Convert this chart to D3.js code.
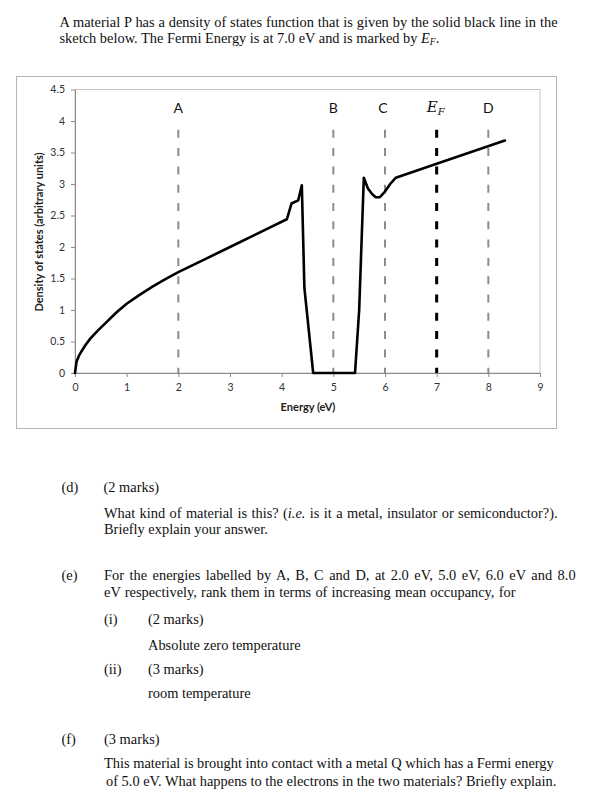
<!DOCTYPE html>
<html>
<head>
<meta charset="utf-8">
<script src="https://cdn.jsdelivr.net/npm/d3@7"></script>
<style>
  html, body { margin: 0; padding: 0; background: #fff; }
  svg { display: block; }
  .serif { font-family: "Liberation Serif", "Times New Roman", serif; font-size: 14.4px; fill: #111; }
  .chartfont { font-family: Lato, "Open Sans", sans-serif; }
</style>
</head>
<body>
<svg id="page" width="595" height="812"></svg>
<script>
// ---- data ----
const energy = [0, 0.03, 0.08, 0.13, 0.2, 0.3, 0.45, 0.6, 0.8, 1.0, 1.25, 1.5, 1.75, 2.0, 2.5, 3.0, 3.5, 4.05, 4.1, 4.19, 4.32, 4.39, 4.44, 4.61, 5.42, 5.5, 5.59, 5.67, 5.75, 5.82, 5.9, 6.0, 6.1, 6.21, 7.0, 8.32];
const dos    = [0, 0.18, 0.28, 0.35, 0.44, 0.55, 0.68, 0.8, 0.96, 1.1, 1.24, 1.37, 1.49, 1.6, 1.8, 2.0, 2.2, 2.42, 2.44, 2.69, 2.74, 2.98, 1.35, 0, 0, 1.0, 3.1, 2.93, 2.84, 2.79, 2.79, 2.88, 3.0, 3.1, 3.32, 3.69];
const markerLabels   = ["A", "B", "C", "EF", "D"];
const markerEnergies = [2.0, 5.0, 6.0, 7.0, 8.0];
const markerTop = 3.86;
const xTicks = [0, 1, 2, 3, 4, 5, 6, 7, 8, 9];
const yTicks = [0, 0.5, 1, 1.5, 2, 2.5, 3, 3.5, 4, 4.5];
const xTitle = "Energy (eV)";
const yTitle = "Density of states (arbitrary units)";

const svg = d3.select("#page");
svg.append("rect").attr("width", 595).attr("height", 812).attr("fill", "#fff");

// ---- header text ----
const head1 = svg.append("text").attr("class", "serif").attr("x", 59.5).attr("y", 26.5).attr("word-spacing", 0.3);
head1.text("A material P has a density of states function that is given by the solid black line in the");
const head2 = svg.append("text").attr("class", "serif").attr("x", 59.5).attr("y", 43.3);
head2.append("tspan").text("sketch below. The Fermi Energy is at 7.0 eV and is marked by ");
head2.append("tspan").attr("font-style", "italic").text("E");
head2.append("tspan").attr("font-style", "italic").attr("font-size", "9.5px").attr("dy", 2).text("F");
head2.append("tspan").attr("dy", -2).text(".");

// ---- chart frame ----
svg.append("rect").attr("x", 16.5).attr("y", 76.5).attr("width", 540).attr("height", 352)
  .attr("fill", "none").attr("stroke", "#b5b5b5").attr("stroke-width", 1);

const x = d3.scaleLinear().domain([0, 9]).range([75, 540]);
const y = d3.scaleLinear().domain([0, 4.5]).range([373, 89.5]);

// plot area border
svg.append("rect").attr("x", x(0)).attr("y", y(4.5)).attr("width", x(9) - x(0)).attr("height", y(0) - y(4.5))
  .attr("fill", "none").attr("stroke", "#c4c4c4").attr("stroke-width", 1);

// axes
const xAxis = svg.append("g").attr("transform", `translate(0,${y(0)})`)
  .call(d3.axisBottom(x).tickValues(xTicks).tickFormat(d3.format("d")).tickSizeInner(4).tickSizeOuter(0).tickPadding(7));
const yAxis = svg.append("g").attr("transform", `translate(${x(0)},0)`)
  .call(d3.axisLeft(y).tickValues(yTicks).tickFormat(d => String(d)).tickSizeInner(4).tickSizeOuter(0).tickPadding(6));
[xAxis, yAxis].forEach(g => {
  g.select(".domain").attr("stroke", "#8a8a8a").attr("stroke-width", 1);
  g.selectAll(".tick line").attr("stroke", "#8a8a8a");
  g.selectAll(".tick text").attr("class", "chartfont").attr("font-size", "10.5px").attr("fill", "#333");
});

svg.append("text").attr("class", "chartfont").attr("x", 308).attr("y", 411)
  .attr("text-anchor", "middle").attr("font-size", "11px").attr("font-weight", "bold").attr("fill", "#222")
  .text(xTitle);
svg.append("text").attr("class", "chartfont")
  .attr("transform", "translate(43,232) rotate(-90)")
  .attr("text-anchor", "middle").attr("font-size", "11px").attr("font-weight", "bold").attr("fill", "#222")
  .text(yTitle);

// ---- marker dashed lines ----
const markers = markerLabels.map((l, i) => ({ label: l, e: markerEnergies[i] }));
svg.append("g").selectAll("line").data(markers).join("line")
  .attr("x1", d => x(d.e)).attr("x2", d => x(d.e))
  .attr("y1", y(markerTop)).attr("y2", y(0))
  .attr("stroke", d => d.label === "EF" ? "#000" : "#8c8c8c")
  .attr("stroke-width", d => d.label === "EF" ? 3 : 2)
  .attr("stroke-dasharray", "8,10.3");

// marker labels
markers.forEach(d => {
  if (d.label === "EF") {
    const t = svg.append("text").attr("x", x(d.e) - 1).attr("y", 111.5).attr("text-anchor", "middle")
      .attr("font-family", "'DejaVu Serif', 'Liberation Serif', serif").attr("font-style", "italic")
      .attr("font-size", "15px").attr("fill", "#111");
    t.append("tspan").text("E");
    t.append("tspan").attr("font-size", "10px").attr("dy", 3).text("F");
  } else {
    svg.append("text").attr("class", "chartfont").attr("x", x(d.e) - (d.label === "C" ? 2 : 0)).attr("y", 113)
      .attr("text-anchor", "middle").attr("font-size", "14px").attr("fill", "#111").text(d.label);
  }
});

// ---- curve ----
const pts = energy.map((e, i) => [e, dos[i]]);
svg.append("path").datum(pts)
  .attr("d", d3.line().x(d => x(d[0])).y(d => y(d[1])))
  .attr("fill", "none").attr("stroke", "#000").attr("stroke-width", 2.6)
  .attr("stroke-linejoin", "round").attr("stroke-linecap", "round");

// ---- question text ----
function line(xp, yp, parts, ws) {
  const t = svg.append("text").attr("class", "serif").attr("x", xp).attr("y", yp);
  if (ws) t.attr("word-spacing", ws);
  parts.forEach(p => {
    if (typeof p === "string") t.append("tspan").text(p);
    else t.append("tspan").attr("font-style", "italic").text(p.i);
  });
  return t;
}
line(61.5, 492, ["(d)"]);
line(103.5, 492, ["(2 marks)"]);
line(104, 518, ["What kind of material is this? (", {i: "i.e."}, " is it a metal, insulator or semiconductor?)."], 0.8);
line(104, 534, ["Briefly explain your answer."]);
line(61.5, 580, ["(e)"]);
line(104, 580, ["For the energies labelled by A, B, C and D, at 2.0 eV, 5.0 eV, 6.0 eV and 8.0"], 1.9);
line(104, 597, ["eV respectively, rank them in terms of increasing mean occupancy, for"], 0.6);
line(104, 623.5, ["(i)"]);
line(148, 623.5, ["(2 marks)"]);
line(148, 649.5, ["Absolute zero temperature"]);
line(104, 673.5, ["(ii)"]);
line(148, 673.5, ["(3 marks)"]);
line(148, 698, ["room temperature"]);
line(61.5, 744, ["(f)"]);
line(104, 744, ["(3 marks)"]);
line(104, 768, ["This material is brought into contact with a metal Q which has a Fermi energy"]);
line(106, 786, ["of 5.0 eV. What happens to the electrons in the two materials? Briefly explain."]);
</script>
</body>
</html>
